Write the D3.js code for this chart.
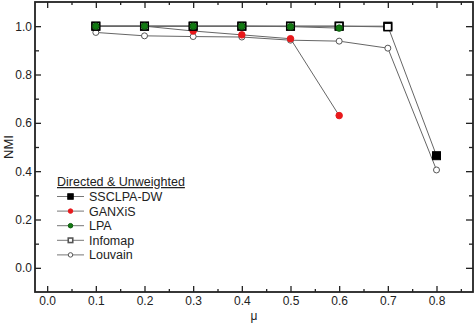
<!DOCTYPE html>
<html>
<head>
<meta charset="utf-8">
<script src="https://cdn.jsdelivr.net/npm/d3@7"></script>
<style>
  body { margin: 0; background: #fff; }
  text { font-family: "Liberation Sans", Arial, sans-serif; fill: #222; }
</style>
</head>
<body>
<div id="chart"></div>
<script>
// NMI vs mixing parameter mu
const muTicks = [0.0, 0.1, 0.2, 0.3, 0.4, 0.5, 0.6, 0.7, 0.8];
const nmiTicks = [0.0, 0.2, 0.4, 0.6, 0.8, 1.0];

const ssclpaMu = [0.1, 0.2, 0.3, 0.4, 0.5, 0.6, 0.7, 0.8];
const ssclpaNmi = [1.0, 1.0, 1.0, 1.0, 1.0, 1.0, 1.0, 0.464];

const ganxisMu = [0.1, 0.2, 0.3, 0.4, 0.5, 0.6];
const ganxisNmi = [1.0, 1.0, 0.98, 0.964, 0.948, 0.63];

const lpaMu = [0.1, 0.2, 0.3, 0.4, 0.5, 0.6];
const lpaNmi = [1.0, 1.0, 1.0, 1.0, 0.998, 0.992];

const infomapMu = [0.1, 0.2, 0.3, 0.4, 0.5, 0.6, 0.7];
const infomapNmi = [1.0, 1.0, 1.0, 1.0, 1.0, 1.0, 0.997];

const louvainMu = [0.1, 0.2, 0.3, 0.4, 0.5, 0.6, 0.7, 0.8];
const louvainNmi = [0.974, 0.96, 0.957, 0.955, 0.942, 0.938, 0.909, 0.405];

const legendTitle = "Directed & Unweighted";

const width = 474, height = 323;
const svg = d3.select("#chart").append("svg")
    .attr("width", width)
    .attr("height", height);

const x = d3.scaleLinear().domain([-0.025, 0.875]).range([35, 473]);
const y = d3.scaleLinear().domain([-0.1, 1.1]).range([292, 2]);

// series definitions (drawing order matters: later ones sit on top)
const series = [
    {name: "Louvain", mu: louvainMu, v: louvainNmi, shape: "circle", fill: "#fff", stroke: "#555", size: 6},
    {name: "GANXiS", mu: ganxisMu, v: ganxisNmi, shape: "circle", fill: "#e8191c", stroke: "#e8191c", size: 6.5},
    {name: "SSCLPA-DW", mu: ssclpaMu, v: ssclpaNmi, shape: "square", fill: "#000", stroke: "#000", size: 8},
    {name: "Infomap", mu: infomapMu, v: infomapNmi, shape: "square", fill: "#fff", stroke: "#000", size: 7.5},
    {name: "LPA", mu: lpaMu, v: lpaNmi, shape: "circle", fill: "#127a12", stroke: "#0d5e0d", size: 6.5}
];

const line = d3.line().x(d => x(d[0])).y(d => y(d[1]));

function drawMarker(g, s, cx, cy, size) {
    if (s.shape === "square") {
        g.append("rect")
            .attr("x", cx - size / 2).attr("y", cy - size / 2)
            .attr("width", size).attr("height", size)
            .attr("fill", s.fill).attr("stroke", s.stroke)
            .attr("stroke-width", s.fill === "#fff" ? 1.6 : 1);
    } else {
        g.append("circle")
            .attr("cx", cx).attr("cy", cy).attr("r", size / 2)
            .attr("fill", s.fill).attr("stroke", s.stroke)
            .attr("stroke-width", 1);
    }
}

// lines first
const linesG = svg.append("g");
series.forEach(s => {
    linesG.append("path")
        .datum(s.mu.map((m, i) => [m, s.v[i]]))
        .attr("d", line)
        .attr("fill", "none")
        .attr("stroke", "#666")
        .attr("stroke-width", 1);
});

// then markers
const marksG = svg.append("g");
series.forEach(s => {
    s.mu.forEach((m, i) => drawMarker(marksG, s, x(m), y(s.v[i]), s.size));
});

// frame + ticks
const frame = svg.append("g");
const axisColor = "#222";
const minorMu = d3.range(0, 17).map(i => i * 0.05 + 0.05).filter(v => Math.round(v * 20) % 2 === 1 && v < 0.875);
const minorNmi = d3.range(-1, 11).map(i => i * 0.1 + 0.1).filter(v => Math.round(v * 10) % 2 === 1 && v < 1.1 && v > -0.1);

// bottom
frame.append("g")
    .attr("transform", `translate(0,${y.range()[0]})`)
    .call(d3.axisBottom(x).tickValues(muTicks).tickSize(-6).tickPadding(4).tickFormat(d3.format(".1f")))
    .call(g => g.select(".domain").remove());
frame.append("g")
    .attr("transform", `translate(0,${y.range()[0]})`)
    .call(d3.axisBottom(x).tickValues(minorMu).tickSize(-3).tickFormat(""))
    .call(g => g.select(".domain").remove());
// top
frame.append("g")
    .attr("transform", `translate(0,${y.range()[1]})`)
    .call(d3.axisTop(x).tickValues(muTicks).tickSize(-6).tickFormat(""))
    .call(g => g.select(".domain").remove());
frame.append("g")
    .attr("transform", `translate(0,${y.range()[1]})`)
    .call(d3.axisTop(x).tickValues(minorMu).tickSize(-3).tickFormat(""))
    .call(g => g.select(".domain").remove());
// left
frame.append("g")
    .attr("transform", `translate(${x.range()[0]},0)`)
    .call(d3.axisLeft(y).tickValues(nmiTicks).tickSize(-6).tickPadding(3).tickFormat(d3.format(".1f")))
    .call(g => g.select(".domain").remove());
frame.append("g")
    .attr("transform", `translate(${x.range()[0]},0)`)
    .call(d3.axisLeft(y).tickValues(minorNmi).tickSize(-4).tickFormat(""))
    .call(g => g.select(".domain").remove());
// right
frame.append("g")
    .attr("transform", `translate(${x.range()[1]},0)`)
    .call(d3.axisRight(y).tickValues(nmiTicks).tickSize(-7).tickFormat(""))
    .call(g => g.select(".domain").remove());
frame.append("g")
    .attr("transform", `translate(${x.range()[1]},0)`)
    .call(d3.axisRight(y).tickValues(minorNmi).tickSize(-4).tickFormat(""))
    .call(g => g.select(".domain").remove());

frame.selectAll(".tick line").attr("stroke", axisColor).attr("stroke-width", 1.3);
frame.selectAll(".tick text").attr("font-size", 12).attr("fill", "#222")
    .style("font-family", "'Liberation Sans', Arial, sans-serif");

frame.append("rect")
    .attr("x", x.range()[0]).attr("y", y.range()[1])
    .attr("width", x.range()[1] - x.range()[0])
    .attr("height", y.range()[0] - y.range()[1])
    .attr("fill", "none")
    .attr("stroke", axisColor)
    .attr("stroke-width", 1.8);

// axis titles
svg.append("text")
    .attr("x", (x.range()[0] + x.range()[1]) / 2)
    .attr("y", 320)
    .attr("text-anchor", "middle")
    .attr("font-size", 12)
    .text("μ");

svg.append("text")
    .attr("transform", `translate(13,${(y.range()[0] + y.range()[1]) / 2}) rotate(-90)`)
    .attr("text-anchor", "middle")
    .attr("font-size", 13)
    .text("NMI");

// legend
const legend = svg.append("g");
legend.append("text")
    .attr("x", 57).attr("y", 186)
    .attr("font-size", 12.5)
    .attr("text-decoration", "underline")
    .text(legendTitle);

const legendOrder = ["SSCLPA-DW", "GANXiS", "LPA", "Infomap", "Louvain"];
const legendSize = {"SSCLPA-DW": 5.5, "GANXiS": 4.5, "LPA": 4.5, "Infomap": 4.5, "Louvain": 4.5};
legendOrder.forEach((name, i) => {
    const s = series.find(d => d.name === name);
    const cy = 196.5 + i * 14.6;
    legend.append("line")
        .attr("x1", 57).attr("x2", 84)
        .attr("y1", cy).attr("y2", cy)
        .attr("stroke", "#777").attr("stroke-width", 1);
    drawMarker(legend, {...s, stroke: s.fill === "#fff" ? "#555" : s.stroke}, 70.5, cy, legendSize[name]);
    legend.append("text")
        .attr("x", 89).attr("y", cy + 4.5)
        .attr("font-size", 12.5)
        .text(name);
});
</script>
</body>
</html>
